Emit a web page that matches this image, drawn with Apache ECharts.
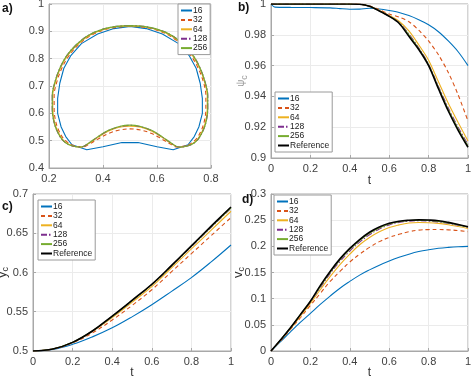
<!DOCTYPE html>
<html lang="en">
<head>
    <meta charset="UTF-8">
    <title>convergence</title>
    <script src="https://cdn.jsdelivr.net/npm/echarts@6/dist/echarts.min.js"></script>
    <style>
        html, body {margin: 0; padding: 0; background: #fff;}
        #main {width: 474px; height: 376px;}
    </style>
</head>
<body>
<div id="main"></div>
<script>
    // a) shape outlines
    var shape16X = [0.5, 0.44, 0.38, 0.32, 0.28, 0.255, 0.24, 0.232, 0.232, 0.245, 0.262, 0.285, 0.34, 0.4, 0.47, 0.53, 0.6, 0.66, 0.715, 0.738, 0.755, 0.768, 0.768, 0.76, 0.745, 0.72, 0.68, 0.62, 0.56, 0.5];
    var shape16Y = [0.918, 0.91, 0.89, 0.855, 0.81, 0.765, 0.71, 0.655, 0.6, 0.55, 0.515, 0.485, 0.467, 0.478, 0.493, 0.493, 0.478, 0.467, 0.485, 0.515, 0.55, 0.6, 0.655, 0.71, 0.765, 0.81, 0.855, 0.89, 0.91, 0.918];

    var shape32X = [0.5, 0.452, 0.403, 0.35, 0.306, 0.272, 0.247, 0.229, 0.219, 0.219, 0.225, 0.237, 0.255, 0.279, 0.305, 0.325, 0.352, 0.382, 0.422, 0.461, 0.5, 0.539, 0.578, 0.618, 0.648, 0.675, 0.695, 0.721, 0.745, 0.763, 0.775, 0.781, 0.781, 0.772, 0.753, 0.728, 0.694, 0.65, 0.597, 0.548, 0.5];
    var shape32Y = [0.918, 0.915, 0.905, 0.882, 0.848, 0.808, 0.764, 0.715, 0.665, 0.615, 0.57, 0.535, 0.506, 0.487, 0.479, 0.477, 0.489, 0.506, 0.527, 0.539, 0.543, 0.539, 0.527, 0.506, 0.489, 0.477, 0.479, 0.487, 0.506, 0.535, 0.57, 0.615, 0.665, 0.715, 0.764, 0.808, 0.848, 0.882, 0.905, 0.915, 0.918];

    var shape64X = [0.5, 0.45, 0.401, 0.347, 0.302, 0.267, 0.242, 0.224, 0.214, 0.214, 0.22, 0.232, 0.25, 0.274, 0.301, 0.321, 0.351, 0.381, 0.421, 0.46, 0.5, 0.54, 0.579, 0.619, 0.649, 0.679, 0.699, 0.726, 0.75, 0.768, 0.78, 0.786, 0.786, 0.776, 0.758, 0.733, 0.698, 0.653, 0.599, 0.55, 0.5];
    var shape64Y = [0.92, 0.917, 0.907, 0.884, 0.849, 0.809, 0.765, 0.715, 0.665, 0.615, 0.57, 0.535, 0.505, 0.486, 0.478, 0.477, 0.492, 0.512, 0.535, 0.549, 0.553, 0.549, 0.535, 0.512, 0.492, 0.477, 0.478, 0.486, 0.505, 0.535, 0.57, 0.615, 0.665, 0.715, 0.765, 0.809, 0.849, 0.884, 0.907, 0.917, 0.92];

    var shape128X = [0.5, 0.45, 0.4, 0.345, 0.3, 0.265, 0.24, 0.222, 0.212, 0.212, 0.218, 0.23, 0.248, 0.272, 0.3, 0.32, 0.35, 0.38, 0.42, 0.46, 0.5, 0.54, 0.58, 0.62, 0.65, 0.68, 0.7, 0.728, 0.752, 0.77, 0.782, 0.788, 0.788, 0.778, 0.76, 0.735, 0.7, 0.655, 0.6, 0.55, 0.5];
    var shape128Y = [0.921, 0.918, 0.908, 0.885, 0.85, 0.81, 0.765, 0.715, 0.665, 0.615, 0.57, 0.535, 0.505, 0.486, 0.478, 0.477, 0.493, 0.513, 0.537, 0.551, 0.556, 0.551, 0.537, 0.513, 0.493, 0.477, 0.478, 0.486, 0.505, 0.535, 0.57, 0.615, 0.665, 0.715, 0.765, 0.81, 0.85, 0.885, 0.908, 0.918, 0.921];

    var shape256X = [0.5, 0.45, 0.4, 0.345, 0.3, 0.265, 0.24, 0.222, 0.212, 0.212, 0.218, 0.23, 0.248, 0.272, 0.3, 0.32, 0.35, 0.38, 0.42, 0.46, 0.5, 0.54, 0.58, 0.62, 0.65, 0.68, 0.7, 0.728, 0.752, 0.77, 0.782, 0.788, 0.788, 0.778, 0.76, 0.735, 0.7, 0.655, 0.6, 0.55, 0.5];
    var shape256Y = [0.921, 0.918, 0.908, 0.885, 0.85, 0.81, 0.765, 0.715, 0.665, 0.615, 0.57, 0.535, 0.505, 0.486, 0.478, 0.477, 0.493, 0.514, 0.538, 0.552, 0.557, 0.552, 0.538, 0.514, 0.493, 0.477, 0.478, 0.486, 0.505, 0.535, 0.57, 0.615, 0.665, 0.715, 0.765, 0.81, 0.85, 0.885, 0.908, 0.918, 0.921];

    // b) psi_c over t
    var tB = [0, 0.02, 0.1, 0.2, 0.3, 0.35, 0.4, 0.45, 0.5, 0.55, 0.6, 0.65, 0.7, 0.75, 0.8, 0.85, 0.9, 0.95, 1];
    var psi16 = [1, 0.998, 0.9978, 0.9977, 0.9975, 0.997, 0.9966, 0.9967, 0.9972, 0.9968, 0.9958, 0.9945, 0.9925, 0.9898, 0.9865, 0.982, 0.976, 0.969, 0.960];
    var psi32 = [1, 1, 1, 1, 1, 1, 1, 0.9999, 0.9988, 0.9963, 0.9935, 0.9915, 0.9885, 0.983, 0.976, 0.967, 0.9555, 0.941, 0.924];
    var psi64 = [1, 1, 1, 1, 1, 1, 1, 0.9998, 0.9986, 0.9958, 0.9926, 0.9888, 0.9825, 0.9735, 0.9635, 0.9495, 0.9355, 0.923, 0.911];
    var psi128 = [1, 1, 1, 1, 1, 1, 1, 0.9998, 0.9985, 0.9955, 0.9922, 0.988, 0.9805, 0.9715, 0.961, 0.9465, 0.9325, 0.92, 0.9088];
    var psi256 = [1, 1, 1, 1, 1, 1, 1, 0.9998, 0.9985, 0.9955, 0.9921, 0.9878, 0.98, 0.971, 0.9605, 0.9458, 0.9315, 0.919, 0.9078];
    var psiRef = [1, 1, 1, 1, 1, 1, 1, 0.9998, 0.9985, 0.9955, 0.992, 0.9875, 0.979, 0.9705, 0.96, 0.945, 0.9305, 0.918, 0.907];

    // c) y_c over t
    var tC = [0, 0.1, 0.2, 0.3, 0.4, 0.5, 0.6, 0.7, 0.8, 0.9, 1];
    var yc16 = [0.5, 0.502, 0.5085, 0.518, 0.5295, 0.5435, 0.559, 0.576, 0.5935, 0.6135, 0.635];
    var yc32 = [0.5, 0.5025, 0.5105, 0.523, 0.5395, 0.558, 0.578, 0.601, 0.624, 0.647, 0.670];
    var yc64 = [0.5, 0.5025, 0.5108, 0.525, 0.5425, 0.562, 0.582, 0.606, 0.630, 0.654, 0.678];
    var yc128 = [0.5, 0.5025, 0.511, 0.5253, 0.5438, 0.5638, 0.5843, 0.6082, 0.633, 0.6575, 0.682];
    var yc256 = [0.5, 0.5025, 0.511, 0.5255, 0.544, 0.564, 0.5845, 0.6085, 0.6335, 0.658, 0.6825];
    var ycRef = [0.5, 0.5025, 0.511, 0.5255, 0.5445, 0.5645, 0.585, 0.609, 0.634, 0.659, 0.6835];

    // d) v_c over t
    var tD = [0, 0.05, 0.1, 0.15, 0.2, 0.25, 0.3, 0.35, 0.4, 0.45, 0.5, 0.55, 0.6, 0.65, 0.7, 0.75, 0.8, 0.85, 0.9, 0.95, 1];
    var vc16 = [0, 0.0185, 0.037, 0.055, 0.072, 0.089, 0.105, 0.12, 0.133, 0.145, 0.155, 0.164, 0.172, 0.179, 0.185, 0.19, 0.1935, 0.1962, 0.198, 0.1993, 0.2];
    var vc32 = [0, 0.02, 0.042, 0.064, 0.087, 0.11, 0.133, 0.152, 0.17, 0.185, 0.198, 0.209, 0.217, 0.223, 0.228, 0.231, 0.232, 0.2322, 0.2315, 0.2302, 0.228];
    var vc64 = [0, 0.021, 0.043, 0.067, 0.091, 0.117, 0.142, 0.165, 0.185, 0.203, 0.217, 0.228, 0.236, 0.241, 0.2445, 0.2455, 0.2452, 0.2438, 0.2412, 0.2378, 0.234];
    var vc128 = [0, 0.022, 0.0445, 0.069, 0.094, 0.121, 0.148, 0.171, 0.191, 0.208, 0.222, 0.233, 0.241, 0.2458, 0.2482, 0.249, 0.2482, 0.2465, 0.2438, 0.2402, 0.2365];
    var vc256 = [0, 0.022, 0.045, 0.07, 0.095, 0.123, 0.15, 0.174, 0.194, 0.211, 0.225, 0.235, 0.2425, 0.247, 0.2493, 0.25, 0.2493, 0.2475, 0.2445, 0.2408, 0.237];
    var vcRef = [0, 0.022, 0.045, 0.07, 0.095, 0.125, 0.152, 0.176, 0.196, 0.213, 0.227, 0.237, 0.244, 0.248, 0.2498, 0.2505, 0.2502, 0.249, 0.2458, 0.2418, 0.2375];

    var names = ['16', '32', '64', '128', '256', 'Reference'];
    var colors = ['#0072BD', '#D95319', '#EDB120', '#7E2F8E', '#77AC30', '#000000'];
    var dashes = ['solid', [4, 3], 'solid', [6, 2, 1.5, 2], 'solid', 'solid'];
    var widths = [1.1, 1.1, 1.1, 1.1, 1.1, 1.6];

    function zip(xs, ys) {
        return xs.map(function (x, i) {
            return [x, ys[i]];
        });
    }

    function makeSeries(idx, k, data, smooth) {
        return {
            name: names[k],
            type: 'line',
            xAxisIndex: idx,
            yAxisIndex: idx,
            data: data,
            symbol: 'none',
            smooth: smooth,
            animation: false,
            lineStyle: {color: colors[k], width: widths[k], type: dashes[k]},
            itemStyle: {color: colors[k]}
        };
    }

    var grids = [
        {left: 49, top: 4, width: 162, height: 164},
        {left: 271, top: 4, width: 197, height: 154},
        {left: 33, top: 194, width: 198, height: 157},
        {left: 271, top: 194, width: 197, height: 157}
    ];
    grids.forEach(function (g) {
        g.show = true;
        g.borderColor = '#a8a8a8';
        g.borderWidth = 1;
        g.backgroundColor = '#fff';
        g.containLabel = false;
        g.outerBoundsMode = 'none';
    });

    var labelStyle = {color: '#404040', fontSize: 11, fontFamily: 'Liberation Sans, Arial, sans-serif', margin: 5};

    function axis(opt) {
        var a = {
            type: 'value',
            gridIndex: opt.grid,
            min: opt.min,
            max: opt.max,
            interval: opt.interval,
            nameMoveOverlap: false,
            axisLine: {show: true, onZero: false, lineStyle: {color: '#a8a8a8'}},
            axisTick: {show: true, inside: true, length: 3, lineStyle: {color: '#a8a8a8'}},
            splitLine: {show: true, lineStyle: {color: '#ebebeb', width: 1}},
            axisLabel: labelStyle
        };
        if (opt.name) {
            a.name = opt.name;
            a.nameLocation = 'middle';
            a.nameGap = opt.gap;
            a.nameTextStyle = {
                color: opt.nameColor || '#303030',
                fontFamily: 'Liberation Sans, Arial, sans-serif',
                rich: {
                    m: {fontSize: opt.nameSize || 13, lineHeight: 16, color: opt.nameColor || '#303030'},
                    s: {fontSize: 9, lineHeight: 10, verticalAlign: 'bottom', color: opt.nameColor || '#303030'}
                }
            };
        }
        return a;
    }

    var xAxes = [
        axis({grid: 0, min: 0.2, max: 0.8, interval: 0.2}),
        axis({grid: 1, min: 0, max: 1, interval: 0.2, name: 't', gap: 17}),
        axis({grid: 2, min: 0, max: 1, interval: 0.2, name: 't', gap: 16}),
        axis({grid: 3, min: 0, max: 1, interval: 0.2, name: 't', gap: 16})
    ];
    var yAxes = [
        axis({grid: 0, min: 0.4, max: 1, interval: 0.1}),
        axis({grid: 1, min: 0.9, max: 1, interval: 0.02, name: '{m|ψ}{s|c}', gap: 22, nameColor: '#9a9a9a', nameSize: 10}),
        axis({grid: 2, min: 0.5, max: 0.7, interval: 0.05, name: '{m|y}{s|c}', gap: 23}),
        axis({grid: 3, min: 0, max: 0.3, interval: 0.05, name: '{m|v}{s|c}', gap: 25})
    ];

    var series = [];
    var shapesX = [shape16X, shape32X, shape64X, shape128X, shape256X];
    var shapesY = [shape16Y, shape32Y, shape64Y, shape128Y, shape256Y];
    for (var k = 0; k < 5; k++) {
        series.push(makeSeries(0, k, zip(shapesX[k], shapesY[k]), k === 0 ? false : 0.35));
    }
    var psi = [psi16, psi32, psi64, psi128, psi256, psiRef];
    var yc = [yc16, yc32, yc64, yc128, yc256, ycRef];
    var vc = [vc16, vc32, vc64, vc128, vc256, vcRef];
    for (k = 0; k < 6; k++) {
        series.push(makeSeries(1, k, zip(tB, psi[k]), 0.3));
        series.push(makeSeries(2, k, zip(tC, yc[k]), 0.4));
        series.push(makeSeries(3, k, zip(tD, vc[k]), 0.4));
    }

    function legend(left, top, data) {
        return {
            left: left,
            top: top,
            orient: 'vertical',
            data: data,
            backgroundColor: '#fff',
            borderColor: '#9a9a9a',
            borderWidth: 1,
            borderRadius: 0,
            padding: [2, 3, 2, 2],
            itemWidth: 11,
            itemHeight: 10.4,
            itemGap: 0.4,
            selectedMode: false,
            itemStyle: {opacity: 0},
            textStyle: {fontSize: 8.5, color: '#202020', fontFamily: 'Liberation Sans, Arial, sans-serif', padding: [0, 0, 0, -4]}
        };
    }

    var panelLabel = function (txt, x, y) {
        return {
            type: 'text',
            left: x,
            top: y,
            style: {text: txt, fontSize: 12, fontWeight: 'bold', fill: '#111', fontFamily: 'Liberation Sans, Arial, sans-serif'}
        };
    };

    var myChart = echarts.init(document.getElementById('main'));
    var option = {
        animation: false,
        grid: grids,
        xAxis: xAxes,
        yAxis: yAxes,
        legend: [
            legend(178, 4, ['16', '32', '64', '128', '256']),
            legend(275, 92, names),
            legend(38, 200, names),
            legend(274, 195, names)
        ],
        graphic: [
            panelLabel('a)', 2, 3),
            panelLabel('b)', 238, 2),
            panelLabel('c)', 2, 201),
            panelLabel('d)', 242, 194)
        ],
        series: series
    };
    myChart.setOption(option);
</script>
</body>
</html>
